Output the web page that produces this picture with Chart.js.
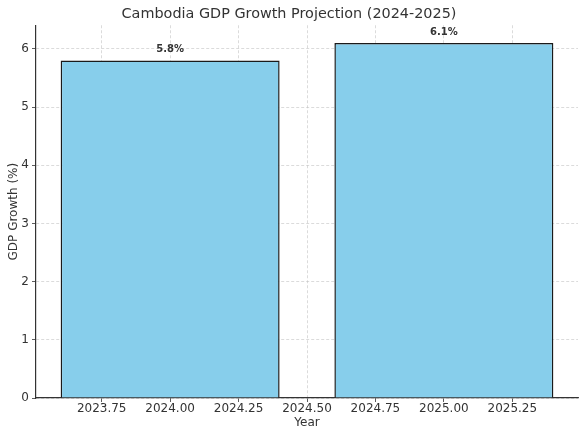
<!DOCTYPE html>
<html>
<head>
<meta charset="utf-8">
<script src="https://cdn.jsdelivr.net/npm/chart.js@4"></script>
<style>
  html, body { margin: 0; padding: 0; background: #fff; }
  #wrap { width: 585px; height: 437px; }
</style>
</head>
<body>
<div id="wrap"><canvas id="gdpChart"></canvas></div>
<script>
// Données
const years = [2024, 2025];
const growth = [5.8, 6.1];
const barLabels = ['5.8%', '6.1%'];
const xTicks = [2023.75, 2024.00, 2024.25, 2024.50, 2024.75, 2025.00, 2025.25];
const yTicks = [0, 1, 2, 3, 4, 5, 6];

const textColor = '#333333';
const gridColor = 'rgba(190,190,190,0.7)';

// Étiquettes au-dessus des barres
const valueLabels = {
    id: 'valueLabels',
    afterDatasetsDraw(chart) {
        const ctx = chart.ctx;
        const xs = chart.scales.x, ys = chart.scales.y;
        ctx.save();
        ctx.fillStyle = textColor;
        ctx.font = 'bold 10px "DejaVu Sans"';
        ctx.textAlign = 'center';
        ctx.textBaseline = 'bottom';
        years.forEach((yr, i) => {
            ctx.fillText(barLabels[i], xs.getPixelForValue(yr), ys.getPixelForValue(growth[i] + 0.1));
        });
        ctx.restore();
    }
};

const ctx = document.getElementById('gdpChart').getContext('2d');
new Chart(ctx, {
    type: 'bar',
    data: {
        datasets: [{
            data: years.map((yr, i) => ({ x: yr, y: growth[i] })),
            backgroundColor: '#87CEEB',
            borderColor: '#1a1a1a',
            borderWidth: 1.5,
            borderSkipped: 'start',
            // la largeur min. vient de l'écart entre ticks (0.25) : 0.8 an = 3.2 x 0.25
            categoryPercentage: 1,
            barPercentage: 3.2
        }]
    },
    options: {
        responsive: true,
        maintainAspectRatio: false,
        animation: false,
        devicePixelRatio: 1,
        layout: { padding: { left: 0, right: 7, top: 0, bottom: 0 } },
        plugins: {
            legend: { display: false },
            tooltip: { enabled: false },
            title: {
                display: true,
                text: 'Cambodia GDP Growth Projection (2024-2025)',
                color: textColor,
                font: { family: 'DejaVu Sans', size: 14.4, weight: 'normal' },
                padding: { top: 6, bottom: 2 }
            }
        },
        scales: {
            x: {
                type: 'linear',
                min: 2023.51,
                max: 2025.49,
                offset: false,
                z: 1,
                afterBuildTicks: s => { s.ticks = xTicks.map(v => ({ value: v })); },
                afterFit: s => { s.height = 39; },
                ticks: {
                    color: textColor,
                    font: { family: 'DejaVu Sans', size: 12 },
                    padding: 0,
                    maxRotation: 0,
                    autoSkip: false,
                    callback: v => Number(v).toFixed(2)
                },
                grid: {
                    offset: false,
                    color: gridColor,
                    lineWidth: 0.8,
                    tickColor: textColor,
                    tickBorderDash: [],
                    tickLength: 4
                },
                border: { display: true, color: textColor, width: 1.2, dash: [3, 2] },
                title: {
                    display: true,
                    text: 'Year',
                    color: textColor,
                    font: { family: 'DejaVu Sans', size: 12 },
                    padding: { top: 0, bottom: 7 }
                }
            },
            y: {
                min: 0,
                max: 6.405,
                z: 1,
                afterBuildTicks: s => { s.ticks = yTicks.map(v => ({ value: v })); },
                afterFit: s => { s.width = 36; },
                ticks: {
                    color: textColor,
                    font: { family: 'DejaVu Sans', size: 12 },
                    padding: 3,
                    callback: v => String(v)
                },
                grid: {
                    color: gridColor,
                    lineWidth: 0.8,
                    tickColor: textColor,
                    tickBorderDash: [],
                    tickLength: 4
                },
                border: { display: true, color: textColor, width: 1.2, dash: [3, 2] },
                title: {
                    display: true,
                    text: 'GDP Growth (%)',
                    color: textColor,
                    font: { family: 'DejaVu Sans', size: 12 },
                    padding: { top: 7, bottom: 0 }
                }
            }
        }
    },
    plugins: [valueLabels]
});
</script>
</body>
</html>
